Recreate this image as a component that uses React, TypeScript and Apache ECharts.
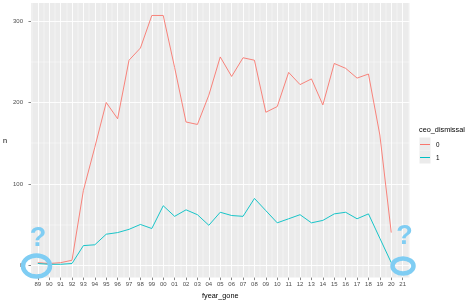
import React, { useEffect, useRef } from "react";
import * as echarts from "echarts";

const years = [1989, 1990, 1991, 1992, 1993, 1994, 1995, 1996, 1997, 1998, 1999, 2000, 2001, 2002, 2003, 2004, 2005, 2006, 2007, 2008, 2009, 2010, 2011, 2012, 2013, 2014, 2015, 2016, 2017, 2018, 2019, 2020];
const dismissal0 = [3, 2, 3, 6, 92, 145, 200, 180, 252, 267, 307, 307, 243, 176, 173, 209, 256, 232, 255, 252, 188, 195, 237, 222, 229, 197, 248, 242, 230, 235, 160, 40];
const dismissal1 = [2, 1, 1, 2, 24, 25, 38, 40, 44, 50, 45, 73, 60, 68, 62, 49, 65, 61, 60, 82, 67, 52, 57, 62, 52, 55, 63, 65, 57, 63, 33, 3];
const xTicks = [1989, 1990, 1991, 1992, 1993, 1994, 1995, 1996, 1997, 1998, 1999, 2000, 2001, 2002, 2003, 2004, 2005, 2006, 2007, 2008, 2009, 2010, 2011, 2012, 2013, 2014, 2015, 2016, 2017, 2018, 2019, 2020, 2021];
const xMinor = [1988.5, 1989.5, 1990.5, 1991.5, 1992.5, 1993.5, 1994.5, 1995.5, 1996.5, 1997.5, 1998.5, 1999.5, 2000.5, 2001.5, 2002.5, 2003.5, 2004.5, 2005.5, 2006.5, 2007.5, 2008.5, 2009.5, 2010.5, 2011.5, 2012.5, 2013.5, 2014.5, 2015.5, 2016.5, 2017.5, 2018.5, 2019.5, 2020.5, 2021.5];
const yTicks = [0, 100, 200, 300];
const yMinor = [50, 150, 250];
const seriesNames = ["0", "1"];
const seriesColors = ["#F8766D", "#00BFC4"];

const FONT = "Liberation Sans, Arial, sans-serif";
const ANNOT = "#7FCDF3";
const LINE_ICON = "path://M0,0L0.01,0L0.01,0.01Z M0,6.1L10,6.1L10,6.9L0,6.9Z M0,13L0.01,13L0.01,13.01Z";

export default function App() {
  const ref = useRef<HTMLDivElement>(null);
  useEffect(() => {
    if (!ref.current) return;
    const chart = echarts.init(ref.current, undefined, { renderer: "svg" });
    const pairs = (vals: number[]) => years.map((y, i) => [y, vals[i]]);
    chart.setOption({
      animation: false,
      textStyle: { fontFamily: FONT },
      title: {
        text: "ceo_dismissal",
        left: 419,
        top: 126,
        padding: 0,
        textStyle: { fontSize: 7.3, fontWeight: "normal", color: "#000", fontFamily: FONT },
      },
      legend: {
        orient: "vertical",
        left: 420,
        top: 138,
        padding: 0,
        itemGap: 0,
        itemWidth: 10,
        itemHeight: 13,
        data: seriesNames.map((n) => ({ name: n, icon: LINE_ICON })),
        textStyle: { fontSize: 6.3, color: "#000", padding: [0, 0, 0, 1] },
      },
      grid: {
        left: 26.5,
        right: 64.5,
        top: 3,
        bottom: 22.3,
        show: true,
        backgroundColor: "#EBEBEB",
        borderWidth: 0,
      },
      xAxis: [
        {
          type: "value",
          min: 1988.4,
          max: 2021.6,
          name: "fyear_gone",
          nameLocation: "middle",
          nameGap: 14,
          nameTextStyle: { fontSize: 7.3, color: "#000" },
          axisLine: { show: false, onZero: false },
          axisTick: { show: true, length: 2.5, customValues: xTicks, lineStyle: { color: "#333", width: 0.6 } },
          axisLabel: {
            customValues: xTicks,
            fontSize: 6,
            color: "#4D4D4D",
            margin: 3.5,
            formatter: (v: number) => String(v % 100).padStart(2, "0"),
          },
          splitLine: { show: true, lineStyle: { color: "#FFFFFF", width: 0.9 } },
        },
        {
          type: "value",
          min: 1988.4,
          max: 2021.6,
          position: "top",
          axisLine: { show: false, onZero: false },
          axisTick: { show: false, customValues: xMinor },
          axisLabel: { show: false, customValues: xMinor },
          splitLine: { show: true, lineStyle: { color: "#FFFFFF", width: 0.45 } },
        },
      ],
      yAxis: [
        {
          type: "value",
          min: -15.35,
          max: 322.35,
          name: "n",
          nameLocation: "middle",
          nameGap: 18,
          nameRotate: 0,
          nameTextStyle: { fontSize: 7.3, color: "#000" },
          axisLine: { show: false, onZero: false },
          axisTick: { show: true, length: 2.5, customValues: yTicks, lineStyle: { color: "#333", width: 0.6 } },
          axisLabel: { customValues: yTicks, fontSize: 6, color: "#4D4D4D", margin: 8 },
          splitLine: { show: true, lineStyle: { color: "#FFFFFF", width: 0.9 } },
        },
        {
          type: "value",
          min: -15.35,
          max: 322.35,
          position: "right",
          axisLine: { show: false, onZero: false },
          axisTick: { show: false, customValues: yMinor },
          axisLabel: { show: false, customValues: yMinor },
          splitLine: { show: true, lineStyle: { color: "#FFFFFF", width: 0.45 } },
        },
      ],
      series: [
        {
          name: seriesNames[0],
          type: "line",
          data: pairs(dismissal0),
          symbol: "none",
          color: seriesColors[0],
          lineStyle: { width: 0.9, color: seriesColors[0] },
          z: 3,
        },
        {
          name: seriesNames[1],
          type: "line",
          data: pairs(dismissal1),
          symbol: "none",
          color: seriesColors[1],
          lineStyle: { width: 0.9, color: seriesColors[1] },
          z: 3,
        },
      ],
      graphic: [
        { type: "rect", z: 1, shape: { x: 419.5, y: 137.5, width: 11, height: 13 }, style: { fill: "#EBEBEB" } },
        { type: "rect", z: 1, shape: { x: 419.5, y: 150.5, width: 11, height: 13 }, style: { fill: "#EBEBEB" } },
        { type: "ellipse", z: 100, shape: { cx: 36.5, cy: 266, rx: 13.5, ry: 10.5 }, style: { fill: "none", stroke: ANNOT, lineWidth: 4.5 } },
        { type: "text", z: 100, x: 38, y: 237, style: { text: "?", fill: ANNOT, font: "bold 27px " + FONT, align: "center", verticalAlign: "middle" } },
        { type: "ellipse", z: 100, shape: { cx: 403, cy: 266, rx: 10.5, ry: 7.5 }, style: { fill: "none", stroke: ANNOT, lineWidth: 4.5 } },
        { type: "text", z: 100, x: 404.5, y: 235, style: { text: "?", fill: ANNOT, font: "bold 27px " + FONT, align: "center", verticalAlign: "middle" } },
      ],
    });
    return () => chart.dispose();
  }, []);
  return <div ref={ref} style={{ position: "fixed", left: 0, top: 0, width: 474, height: 304 }} />;
}
